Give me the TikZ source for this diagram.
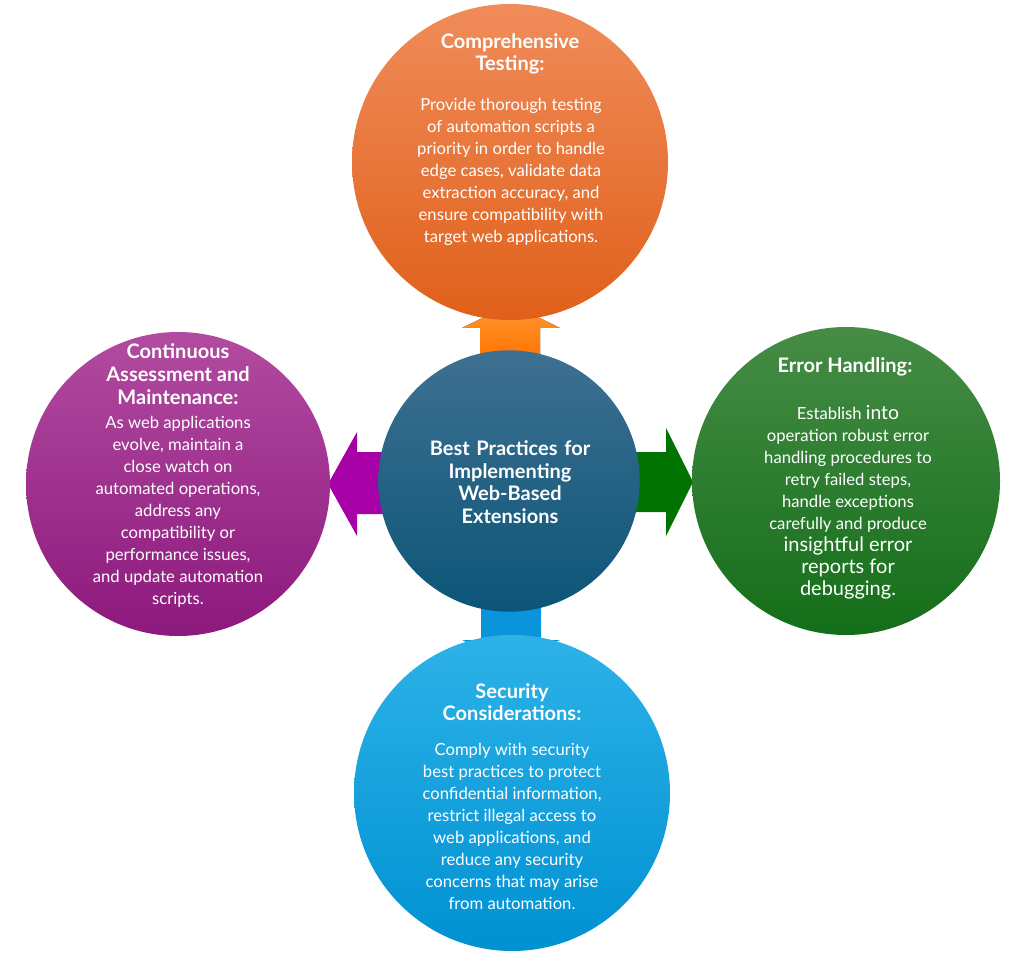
\documentclass[tikz,border=0pt]{standalone}
\usepackage{fontspec}
\setmainfont{Lato}
\begin{document}
\begin{tikzpicture}[x=0.75pt,y=-0.75pt,
 circ/.style={circle,inner sep=0pt},
 ttl/.style={font=\bfseries\fontsize{15}{17}\selectfont,text=white,align=center},
 bdy/.style={font=\fontsize{12.5}{16.5}\selectfont,text=white,align=center}]
\useasboundingbox (0,0) rectangle (1024,955);
% arrows (behind)
\fill[top color=orange!80!white,bottom color=orange!90!red] (480,360) -- (480,328) -- (462,328) -- (511,304) -- (560,328) -- (540,328) -- (540,360) -- cycle;
\fill[green!45!black] (630,452) -- (666,452) -- (666,428) -- (693,482) -- (666,536) -- (666,512) -- (630,512) -- cycle;
\fill[violet!70!magenta] (390,452) -- (357,452) -- (357,432) -- (328,484) -- (357,536) -- (357,514) -- (390,514) -- cycle;
\fill[cyan!80!blue] (481,600) -- (481,640) -- (462,640) -- (511,662) -- (560,640) -- (541,640) -- (541,600) -- cycle;
% circles
\node[circ,minimum size=237pt,shade,top color={rgb,255:red,240;green,140;blue,90},bottom color={rgb,255:red,224;green,96;blue,26}] (top) at (510,162) {};
\node[circ,minimum size=231pt,shade,top color={rgb,255:red,70;green,140;blue,70},bottom color={rgb,255:red,20;green,110;blue,25}] (right) at (846,481) {};
\node[circ,minimum size=228pt,shade,top color={rgb,255:red,178;green,75;blue,160},bottom color={rgb,255:red,140;green,25;blue,125}] (left) at (178,484) {};
\node[circ,minimum size=237pt,shade,top color={rgb,255:red,45;green,178;blue,232},bottom color={rgb,255:red,0;green,145;blue,210}] (bottom) at (512,793) {};
\node[circ,minimum size=196pt,shade,top color={rgb,255:red,62;green,112;blue,145},bottom color={rgb,255:red,12;green,85;blue,120}] (center) at (509,481) {};
% texts
\node[ttl,text width=230] (ct) at (510,482) {Best Practices for\\Implementing\\Web-Based\\Extensions};
\node[ttl] (tt) at (510,54) {Comprehensive\\Testing:};
\node[bdy] (tb) at (511,172) {Provide thorough testing\\of automation scripts a\\priority in order to handle\\edge cases, validate data\\extraction accuracy, and\\ensure compatibility with\\target web applications.};
\node[ttl] (rt) at (845,367) {Error Handling:};
\node[bdy] (rb) at (848,502) {Establish {\fontsize{14.5}{16}\selectfont into}\\operation robust error\\handling procedures to\\retry failed steps,\\handle exceptions\\carefully and produce\\{\fontsize{15}{17}\selectfont insightful error}\\{\fontsize{15}{17}\selectfont reports for}\\{\fontsize{15}{17}\selectfont debugging.}};
\node[ttl] (lt) at (178,374) {Continuous\\Assessment and\\Maintenance:};
\node[bdy] (lb) at (178,512) {As web applications\\evolve, maintain a\\close watch on\\automated operations,\\address any\\compatibility or\\performance issues,\\and update automation\\scripts.};
\node[ttl] (bt) at (512,702) {Security\\Considerations:};
\node[bdy] (bb) at (512,826) {Comply with security\\best practices to protect\\confidential information,\\restrict illegal access to\\web applications, and\\reduce any security\\concerns that may arise\\from automation.};
\end{tikzpicture}
\end{document}
